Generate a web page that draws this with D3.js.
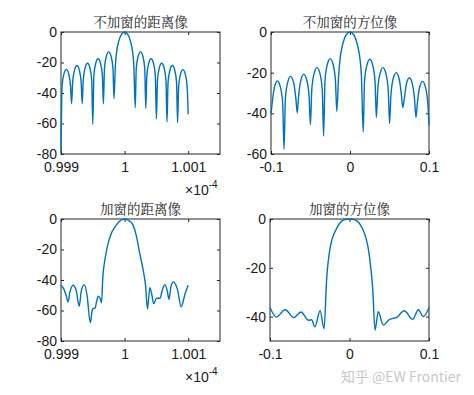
<!DOCTYPE html>
<html>
<head>
<meta charset="utf-8">
<script src="https://cdn.jsdelivr.net/npm/d3@7"></script>
<style>
  body { margin: 0; background: #fff; }
  svg { display: block; }
  .tick text { font-family: "Liberation Sans", Arial, sans-serif; font-size: 14px; fill: #1a1a1a; }
  .tick line { stroke: #262626; }
  .title { font-family: "SimSun", "Noto Serif CJK SC", "Noto Sans CJK SC", serif; font-size: 13.5px; fill: #262626; }
</style>
</head>
<body>
<svg id="chart" width="474" height="395"></svg>
<script>
// titles
var titles = ['不加窗的距离像', '不加窗的方位像', '加窗的距离像', '加窗的方位像'];

// tick values
var rangeTicks = [0.999, 1, 1.001];
var azTicks = [-0.1, 0, 0.1];
var dbTicks80 = [0, -20, -40, -60, -80];
var dbTicks60 = [0, -20, -40, -60];
var dbTicks50 = [0, -20, -40];

// unwindowed range profile (x in units of 1e-4 s, dB)
var rangeNoWin = [
  [0.999000, -78], [0.999017, -35.5], [0.999046, -27.5], [0.999083, -24.5], [0.999121, -27.5], [0.999150, -35.5], [0.999167, -47],
  [0.999183, -33], [0.999213, -25], [0.999250, -22], [0.999288, -25], [0.999317, -33], [0.999333, -47],
  [0.999350, -31.5], [0.999379, -23.5], [0.999417, -20.5], [0.999454, -23.5], [0.999483, -31.5], [0.999500, -60.5],
  [0.999517, -28.5], [0.999546, -20.5], [0.999583, -17.5], [0.999621, -20.5], [0.999650, -28.5], [0.999667, -47],
  [0.999683, -24], [0.999713, -16], [0.999750, -13], [0.999788, -16], [0.999817, -24], [0.999833, -43.7],
  [0.999855, -22], [0.999878, -12], [0.999905, -6.5], [0.999950, -1.5], [1.000000, 0],
  [1.000050, -1.5], [1.000095, -6.5], [1.000122, -12], [1.000145, -22], [1.000167, -49.6],
  [1.000183, -24], [1.000213, -16], [1.000250, -13], [1.000288, -16], [1.000317, -24], [1.000333, -50],
  [1.000350, -28.5], [1.000379, -20.5], [1.000417, -17.5], [1.000454, -20.5], [1.000483, -28.5], [1.000500, -57],
  [1.000517, -31.5], [1.000546, -23.5], [1.000583, -20.5], [1.000621, -23.5], [1.000650, -31.5], [1.000667, -59],
  [1.000683, -33], [1.000713, -25], [1.000750, -22], [1.000788, -25], [1.000817, -33], [1.000833, -59.5],
  [1.000850, -35.7], [1.000879, -27.7], [1.000917, -24.7], [1.000954, -27.7], [1.000983, -35.7], [1.001000, -54]
];

// unwindowed azimuth profile
var azNoWin = [
  [-0.1000, -40.3], [-0.0956, -27.1], [-0.0919, -24.1], [-0.0881, -27.1], [-0.0852, -35.1], [-0.0835, -57.7],
  [-0.0818, -32.8], [-0.0789, -24.8], [-0.0752, -21.8], [-0.0714, -24.8], [-0.0685, -32.8], [-0.0668, -39.8],
  [-0.0651, -31.7], [-0.0622, -23.7], [-0.0585, -20.7], [-0.0547, -23.7], [-0.0518, -31.7], [-0.0501, -45.7],
  [-0.0484, -28.5], [-0.0455, -20.5], [-0.0418, -17.5], [-0.0380, -20.5], [-0.0351, -28.5], [-0.0334, -51.2],
  [-0.0317, -24.1], [-0.0288, -16.1], [-0.0251, -13.1], [-0.0213, -16.1], [-0.0184, -24.1], [-0.0167, -39],
  [-0.0145, -22], [-0.0122, -12], [-0.0095, -6.5], [-0.0050, -1.5], [0, 0],
  [0.0050, -1.5], [0.0095, -6.5], [0.0122, -12], [0.0145, -22], [0.0167, -49.2],
  [0.0184, -24.4], [0.0213, -16.4], [0.0251, -13.4], [0.0288, -16.4], [0.0317, -24.4], [0.0334, -42.1],
  [0.0351, -28.5], [0.0380, -20.5], [0.0418, -17.5], [0.0455, -20.5], [0.0484, -28.5], [0.0501, -44.9],
  [0.0518, -31], [0.0547, -23], [0.0585, -20], [0.0622, -23], [0.0651, -31], [0.0668, -37.2],
  [0.0685, -33.5], [0.0714, -25.5], [0.0752, -22.5], [0.0789, -25.5], [0.0818, -33.5], [0.0835, -42],
  [0.0852, -35.3], [0.0881, -27.3], [0.0919, -24.3], [0.0956, -27.3], [0.0985, -35.3], [0.1000, -46]
];

// windowed range profile
var rangeWin = [
  [0.999000, -43.4], [0.999040, -45.5], [0.999080, -50], [0.999111, -54.4], [0.999140, -48], [0.999190, -43.4],
  [0.999240, -47], [0.999286, -57.2], [0.999320, -47], [0.999365, -43], [0.999410, -50], [0.999460, -68],
  [0.999490, -60], [0.999508, -58.7], [0.999535, -58.5], [0.999560, -54], [0.999587, -50.6], [0.999615, -52],
  [0.999638, -55], [0.999655, -40], [0.999698, -24.8], [0.999762, -12.7], [0.999868, -4], [0.999950, -0.5],
  [1.000000, 0], [1.000050, -0.5], [1.000132, -4], [1.000190, -12], [1.000238, -22.6], [1.000290, -33],
  [1.000329, -43.4], [1.000360, -59], [1.000397, -45], [1.000430, -50], [1.000456, -55.5], [1.000503, -52],
  [1.000556, -52], [1.000600, -45.5], [1.000635, -43], [1.000670, -47], [1.000698, -52.6], [1.000730, -44],
  [1.000767, -41.2], [1.000830, -46], [1.000889, -57.6], [1.000952, -48.8], [1.001000, -43.4]
];

// windowed azimuth profile
var azWin = [
  [-0.1000, -36.3], [-0.0920, -40.2], [-0.0810, -37.2], [-0.0700, -40.4], [-0.0610, -38.1], [-0.0515, -41.5],
  [-0.0478, -41.3], [-0.0435, -44.2], [-0.0370, -37.6], [-0.0320, -45],
  [-0.0287, -24.4], [-0.0245, -12], [-0.0161, -3.8], [-0.0057, -0.2], [0, 0],
  [0.0057, -0.2], [0.0161, -3.8], [0.0249, -14.8], [0.0292, -28.5], [0.0321, -45.5],
  [0.0362, -38], [0.0425, -43.5], [0.0500, -41.2], [0.0594, -40.3], [0.0690, -37.6],
  [0.0795, -41.1], [0.0866, -37.2], [0.0929, -40], [0.1000, -36.3]
];

var svg = d3.select('#chart');

var panels = [
  { box: [61, 220, 32, 154], xd: [0.999, 1.0015], yd: [-80, 0], xt: rangeTicks, yt: dbTicks80, data: rangeNoWin, exp: true },
  { box: [271, 429, 32, 154], xd: [-0.1, 0.1], yd: [-60, 0], xt: azTicks, yt: dbTicks60, data: azNoWin, exp: false },
  { box: [61, 220, 219, 341], xd: [0.999, 1.0015], yd: [-80, 0], xt: rangeTicks, yt: dbTicks80, data: rangeWin, exp: true },
  { box: [270, 429, 219, 341], xd: [-0.1, 0.1], yd: [-50, 0], xt: azTicks, yt: dbTicks50, data: azWin, exp: false }
];

var fmt = function(d) { return String(d); };

panels.forEach(function(p, i) {
  var x = d3.scaleLinear().domain(p.xd).range([p.box[0], p.box[1]]);
  var y = d3.scaleLinear().domain(p.yd).range([p.box[3], p.box[2]]);
  var g = svg.append('g');

  g.append('g').attr('transform', 'translate(0,' + p.box[3] + ')')
    .call(d3.axisBottom(x).tickValues(p.xt).tickFormat(fmt).tickSize(-3).tickSizeOuter(0).tickPadding(8));
  g.append('g').attr('transform', 'translate(' + p.box[0] + ',0)')
    .call(d3.axisLeft(y).tickValues(p.yt).tickFormat(fmt).tickSize(-3).tickSizeOuter(0).tickPadding(4));
  // mirrored ticks on top and right
  g.append('g').attr('transform', 'translate(0,' + p.box[2] + ')')
    .call(d3.axisTop(x).tickValues(p.xt).tickFormat('').tickSize(-3).tickSizeOuter(0));
  g.append('g').attr('transform', 'translate(' + p.box[1] + ',0)')
    .call(d3.axisRight(y).tickValues(p.yt).tickFormat('').tickSize(-3).tickSizeOuter(0));
  g.selectAll('.domain').remove();

  g.append('rect')
    .attr('x', p.box[0]).attr('y', p.box[2])
    .attr('width', p.box[1] - p.box[0]).attr('height', p.box[3] - p.box[2])
    .attr('fill', 'none').attr('stroke', '#262626').attr('stroke-width', 1);

  var line = d3.line()
    .x(function(d) { return x(d[0]); })
    .y(function(d) { return y(d[1]); })
    .curve(d3.curveMonotoneX);

  g.append('path').datum(p.data)
    .attr('d', line)
    .attr('fill', 'none')
    .attr('stroke', '#0072BD')
    .attr('stroke-width', 1.4)
    .attr('stroke-linejoin', 'round');

  g.append('text').attr('class', 'title')
    .attr('x', (p.box[0] + p.box[1]) / 2).attr('y', p.box[2] - 5)
    .attr('text-anchor', 'middle')
    .text(titles[i]);

  if (p.exp) {
    var t = g.append('text')
      .attr('x', 185).attr('y', p.box[3] + 41)
      .attr('font-family', '"Liberation Sans", Arial, sans-serif')
      .attr('font-size', 14).attr('fill', '#1a1a1a');
    t.append('tspan').text('×10');
    t.append('tspan').attr('font-size', 10).attr('dy', -7).text('-4');
  }
});

// watermark
svg.append('text')
  .attr('x', 461).attr('y', 382)
  .attr('text-anchor', 'end')
  .attr('font-family', '"Noto Sans CJK SC", "Noto Sans", sans-serif')
  .attr('font-size', 14)
  .attr('fill', '#c8c8c8')
  .text('知乎 @EW Frontier');
</script>
</body>
</html>
